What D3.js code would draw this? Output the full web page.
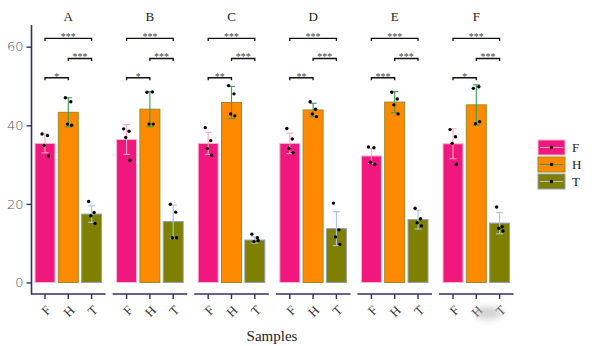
<!DOCTYPE html>
<html>
<head>
<meta charset="utf-8">
<script src="https://cdn.jsdelivr.net/npm/d3@7"></script>
<style>
  body { margin: 0; background: #fff; }
  svg { display: block; }
</style>
</head>
<body>
<div id="chart"></div>
<script>
// facets and groups
const panels = ["A", "B", "C", "D", "E", "F"];
const groups = ["F", "H", "T"];

// bar heights (mean) per panel, order F, H, T
const meanF = [35.4, 36.4, 35.4, 35.4, 32.2, 35.3];
const meanH = [43.3, 44.1, 45.8, 43.9, 45.9, 45.2];
const meanT = [17.4, 15.5, 10.8, 13.7, 16.0, 15.1];

// standard deviations
const sdF = [2.4, 3.8, 2.8, 2.6, 1.9, 3.8];
const sdH = [3.7, 4.5, 4.1, 1.7, 2.7, 5.1];
const sdT = [2.1, 4.2, 0.8, 4.3, 2.4, 2.7];

// replicate points
const ptsF = [
  [37.8, 37.4, 34.9, 32.2],
  [39.1, 38.5, 36.9, 31.1],
  [39.4, 36.1, 34.1, 32.4],
  [39.2, 36.5, 34.1, 33.0],
  [34.5, 34.3, 30.6, 30.1],
  [38.9, 37.1, 35.4, 30.1]
];
const ptsH = [
  [47.0, 46.0, 40.3, 40.0],
  [48.4, 48.5, 40.3, 40.3],
  [50.1, 48.0, 42.9, 42.4],
  [46.0, 44.1, 42.9, 42.2],
  [48.4, 46.7, 45.2, 42.9],
  [49.4, 49.8, 40.4, 40.9]
];
const ptsT = [
  [20.6, 17.8, 17.0, 15.0],
  [19.9, 17.9, 11.4, 11.4],
  [12.3, 11.4, 10.4, 10.7],
  [20.2, 13.4, 11.6, 9.7],
  [18.9, 16.2, 15.2, 14.4],
  [19.2, 14.2, 13.8, 13.1]
];

// significance labels: F-H, H-T, F-T
const sigFH = ["*", "*", "**", "**", "***", "*"];
const sigHT = ["***", "***", "***", "***", "***", "***"];
const sigFT = ["***", "***", "***", "***", "***", "***"];
const bracketY = { FH: 52.1, HT: 57.0, FT: 62.1 };

const yTicks = [0, 20, 40, 60];

const fillCol = { F: "#F0187E", H: "#FF8A00", T: "#808000" };
const lineCol = { F: "#F6A9BC", H: "#3E9B52", T: "#A9C3DE" };
const edgeCol = { F: "#F7B9CB", H: "#9C8A1E", T: "#8E9FB8" };

const W = 600, H = 346;
const svg = d3.select("#chart").append("svg")
  .attr("width", W).attr("height", H);

const serif = "'Liberation Serif', 'DejaVu Serif', serif";
const axisCol = "#2F3264";

const y = d3.scaleLinear().domain([-2.93, 65.52]).range([294, 25]);
const px = d3.scaleBand().domain(panels).range([31, 513.6]).paddingInner(0.086);
const gx = d3.scaleBand().domain(groups).range([0, px.bandwidth()])
  .paddingInner(0.1).paddingOuter(0.15);

const means = { F: meanF, H: meanH, T: meanT };
const sds = { F: sdF, H: sdH, T: sdT };
const pts = { F: ptsF, H: ptsH, T: ptsT };
const jitter = [-0.14, 0.12, -0.04, 0.16];

// y axis
const yAxis = svg.append("g")
  .attr("transform", "translate(31.5,0)")
  .call(d3.axisLeft(y).tickValues(yTicks).tickSize(5).tickPadding(3));
yAxis.select(".domain").attr("stroke", axisCol).attr("stroke-width", 1.6)
  .attr("d", "M0," + y.range()[1] + "V" + y.range()[0]);
yAxis.selectAll(".tick line").attr("stroke", axisCol).attr("stroke-width", 1.4);
yAxis.selectAll(".tick text")
  .attr("fill", "#555").attr("font-size", 13)
  .attr("font-family", "'DejaVu Sans', sans-serif")
  .style("font-weight", 300);

panels.forEach((p, i) => {
  const g = svg.append("g").attr("transform", "translate(" + px(p) + ",0)");
  const cx = k => gx(k) + gx.bandwidth() / 2;

  // strip label
  g.append("text")
    .attr("x", px.bandwidth() / 2).attr("y", 21)
    .attr("text-anchor", "middle")
    .attr("font-family", serif).attr("font-size", 13).attr("fill", "#222")
    .text(p);

  // bars
  groups.forEach(k => {
    const m = means[k][i];
    g.append("rect")
      .attr("x", gx(k) + 0.5).attr("y", y(m))
      .attr("width", gx.bandwidth() - 1).attr("height", y(0) - y(m))
      .attr("fill", fillCol[k])
      .attr("stroke", edgeCol[k]).attr("stroke-width", 1);
  });

  // error bars
  groups.forEach(k => {
    const m = means[k][i], s = sds[k][i], c = cx(k);
    const eb = g.append("g").attr("stroke", lineCol[k]).attr("stroke-width", 1.1);
    eb.append("line").attr("x1", c).attr("x2", c).attr("y1", y(m - s)).attr("y2", y(m + s));
    [m - s, m + s].forEach(v => {
      eb.append("line").attr("x1", c - 3.5).attr("x2", c + 3.5).attr("y1", y(v)).attr("y2", y(v));
    });
  });

  // points
  groups.forEach(k => {
    g.append("g").selectAll("circle")
      .data(pts[k][i])
      .join("circle")
      .attr("cx", (d, j) => cx(k) + jitter[j] * gx.bandwidth())
      .attr("cy", d => y(d))
      .attr("r", 1.7)
      .attr("fill", "#000");
  });

  // significance brackets
  const bracket = (a, b, v, lab) => {
    const yy = y(v);
    g.append("path")
      .attr("d", "M" + cx(a) + "," + (yy + 2.5) + "V" + yy + "H" + cx(b) + "V" + (yy + 2.5))
      .attr("fill", "none").attr("stroke", "#111").attr("stroke-width", 1.3);
    g.append("text")
      .attr("x", (cx(a) + cx(b)) / 2).attr("y", yy + 2)
      .attr("text-anchor", "middle")
      .attr("font-family", serif).attr("font-size", 10).attr("fill", "#444")
      .text(lab);
  };
  bracket("F", "H", bracketY.FH, sigFH[i]);
  bracket("H", "T", bracketY.HT, sigHT[i]);
  bracket("F", "T", bracketY.FT, sigFT[i]);

  // x axis for the panel
  const xa = g.append("g")
    .attr("transform", "translate(0,294)")
    .call(d3.axisBottom(gx).tickSize(5).tickSizeOuter(0));
  xa.select(".domain").attr("stroke", axisCol).attr("stroke-width", 1.6)
    .attr("d", "M0,0H" + px.bandwidth());
  xa.selectAll(".tick line").attr("stroke", axisCol).attr("stroke-width", 1.4);
  xa.selectAll(".tick text")
    .attr("font-family", serif).attr("font-size", 13).attr("fill", "#333")
    .attr("text-anchor", "end")
    .attr("y", 0).attr("dy", 0)
    .attr("transform", "translate(7,17) rotate(-45)");
});

// soft smudge over the lower right corner of the last panel
const blur = svg.append("defs").append("filter").attr("id", "smudge")
  .attr("x", "-50%").attr("y", "-50%").attr("width", "200%").attr("height", "200%");
blur.append("feGaussianBlur").attr("stdDeviation", 3.5);
svg.append("ellipse")
  .attr("cx", px("F") + cx0("H") + 12).attr("cy", 313)
  .attr("rx", 14).attr("ry", 6)
  .attr("fill", "#bdbdbd").attr("opacity", 0.75)
  .attr("filter", "url(#smudge)");
function cx0(k) { return gx(k) + gx.bandwidth() / 2; }

// axis title
svg.append("text")
  .attr("x", 272).attr("y", 341)
  .attr("text-anchor", "middle")
  .attr("font-family", serif).attr("font-size", 15).attr("fill", "#222")
  .text("Samples");

// legend
const leg = svg.append("g").attr("transform", "translate(538,140)");
groups.forEach((k, j) => {
  const row = leg.append("g").attr("transform", "translate(0," + j * 17 + ")");
  row.append("rect").attr("width", 27).attr("height", 15)
    .attr("fill", fillCol[k]).attr("stroke", edgeCol[k]).attr("stroke-width", 1);
  row.append("line").attr("x1", 2).attr("x2", 25).attr("y1", 7.5).attr("y2", 7.5)
    .attr("stroke", lineCol[k]).attr("stroke-width", 1);
  row.append("circle").attr("cx", 13.5).attr("cy", 7.5).attr("r", 1.7).attr("fill", "#000");
  row.append("text").attr("x", 34).attr("y", 7.5).attr("dy", "0.35em")
    .attr("font-family", serif).attr("font-size", 13).attr("fill", "#222")
    .text(k);
});
</script>
</body>
</html>
